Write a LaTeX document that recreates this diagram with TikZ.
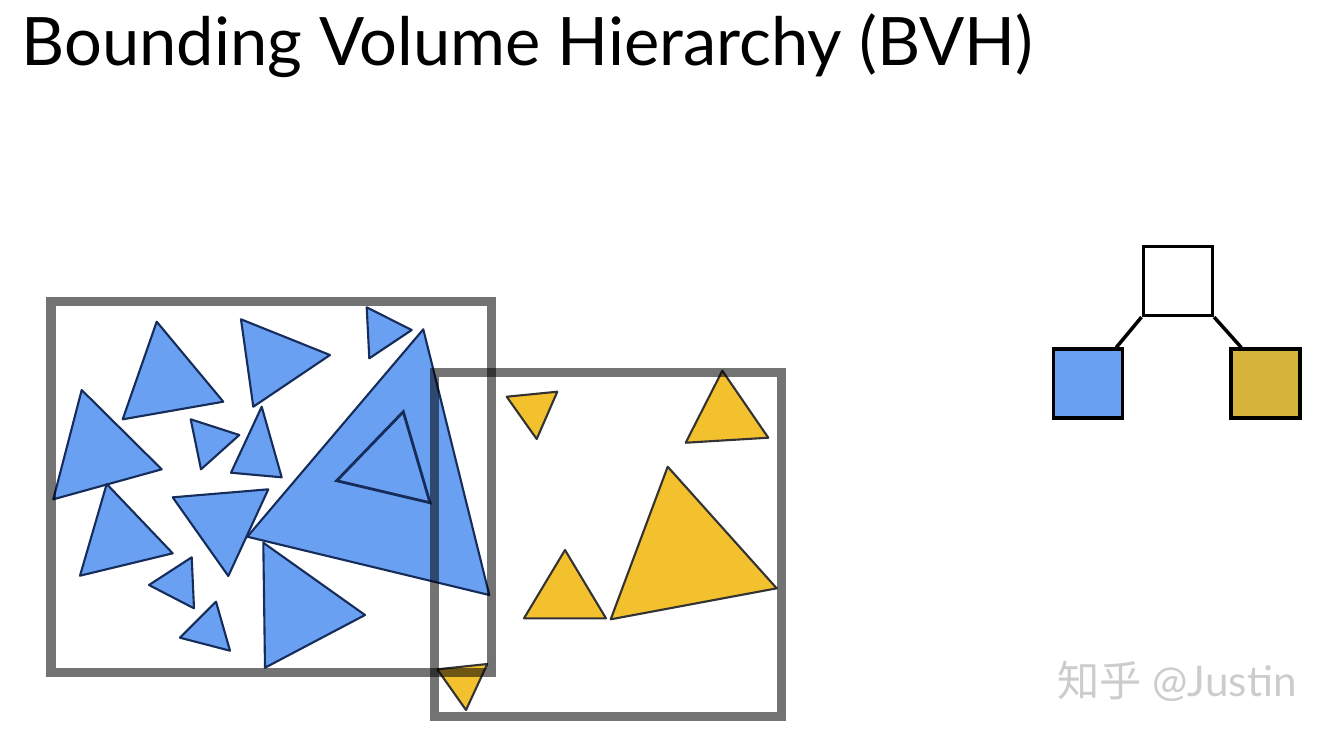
\documentclass[tikz,border=0pt]{standalone}
\usepackage{fontspec}
\setmainfont{Lato}
\newfontfamily\cjkfont{Noto Sans CJK SC}
\usetikzlibrary{calc}
\definecolor{bvhblue}{RGB}{106,160,242}
\definecolor{bvhyellow}{RGB}{243,192,46}
\definecolor{bvhmustard}{RGB}{214,180,60}
\definecolor{bvhedge}{RGB}{22,44,90}
\def\tri[#1](#2)(#3)(#4){
	\draw[#1] (#2) -- (#3) -- (#4) -- cycle; }

\begin{document}
\begin{tikzpicture}[x=0.01cm,y=-0.01cm]
	\useasboundingbox[fill=white] (0,0) rectangle (1333,738);
	\tikzset{btri/.style={fill=bvhblue,draw=bvhedge,line width=0.6pt,line join=round},
	ytri/.style={fill=bvhyellow,draw=black!80,line width=0.6pt,line join=round},
	bvbox/.style={draw=black,draw opacity=0.55,line width=0.09cm},
	treebox/.style={draw=black,line width=1pt,minimum size=0.69cm,inner sep=0pt}}
	\node[anchor=base west,font=\fontsize{19}{23}\selectfont] (title) at (9,65) {Bounding Volume Hierarchy (BVH)};
	\tri[btri](156.7,321.7)(223.3,401.7)(122.7,419.3)
	\tri[btri](241,319.3)(330,355)(253.3,406.7)
	\tri[btri](366.7,307.3)(411.7,330)(369.3,358.3)
	\tri[btri](81.7,390)(161.7,469.3)(53.3,499.3)
	\tri[btri](190.7,419.3)(239.3,435)(201,469.3)
	\tri[btri](261.7,406.7)(281.7,477.3)(231,472.7)
	\tri[btri](423.3,329.3)(489.3,595)(247.3,536.7)
	\tri[draw=bvhedge,line width=0.8pt](403.3,411.7)(430,502.7)(336.7,480.7)
	\tri[btri](106.7,484)(172.7,553.3)(80,575.7)
	\tri[btri](172.7,497.3)(268.3,489.3)(228.3,576)
	\tri[btri](191.7,557.3)(194,608.3)(149,585)
	\tri[btri](216,601.7)(230,650.7)(180,637.7)
	\tri[btri](263.3,542.7)(365,615)(265,667.7)
	\tri[ytri](506.7,396.7)(557.3,391.7)(536.7,439)
	\tri[ytri](722.3,370.7)(768.3,437.7)(685.7,442.7)
	\tri[ytri](565,550)(606,618.3)(524,618.3)
	\tri[ytri](667.7,466.7)(776.7,588.3)(610.7,619.3)
	\tri[ytri](437.3,669.3)(487.3,664)(466,710)
	\draw[bvbox] (51,301) rectangle (491,672);
	\draw[bvbox] (434,372) rectangle (781,716);
	\node[treebox,fill=white] (root) at (1177.8,280.8) {};
	\node[treebox,fill=bvhblue] (leftbv) at (1088,383.7) {};
	\node[treebox,fill=bvhmustard] (rightbv) at (1265.5,383.7) {};
	\draw[line width=1pt] (root.south west) -- ([xshift=-0.08cm]leftbv.north east);
	\draw[line width=1pt] (root.south east) -- ([xshift=0.12cm]rightbv.north west);
	\node[anchor=base west,text=black!20,font=\fontsize{12}{14}\selectfont] (mark) at (1045,696) {{\cjkfont 知乎} @Justin};
\end{tikzpicture}
\end{document}
